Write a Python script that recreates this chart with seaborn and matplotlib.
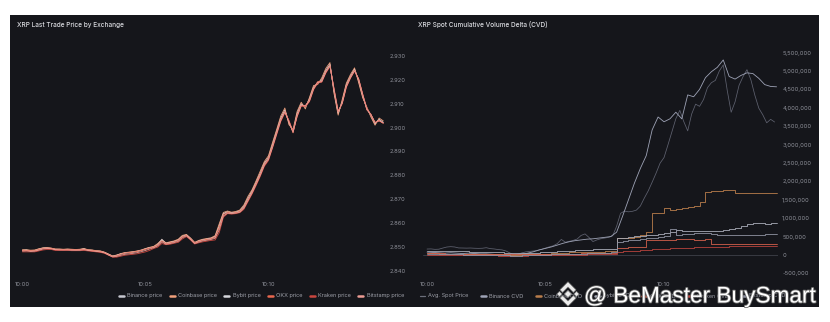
import numpy as np
import matplotlib
matplotlib.use("Agg")
import matplotlib.pyplot as plt
import seaborn as sns
from matplotlib.lines import Line2D
from matplotlib.patches import Rectangle, Polygon
import matplotlib.patheffects as pe
from matplotlib.ticker import FuncFormatter, FixedLocator

# ---------------------------------------------------------------------------
# Last trade price per exchange, sampled every 10 s from 10:00
# ---------------------------------------------------------------------------
binance_price = [
    2.8487, 2.8488, 2.8485, 2.8486, 2.8492, 2.8496, 2.8497, 2.8495, 2.8491, 2.8491,
    2.8490, 2.8491, 2.8490, 2.8489, 2.8490, 2.8493, 2.8488, 2.8487, 2.8484, 2.8483,
    2.8478, 2.8470, 2.8462, 2.8466, 2.8472, 2.8476, 2.8478, 2.8480, 2.8483, 2.8487,
    2.8493, 2.8498, 2.8501, 2.8512, 2.8533, 2.8516, 2.8520, 2.8524, 2.8530, 2.8546,
    2.8551, 2.8536, 2.8518, 2.8526, 2.8531, 2.8534, 2.8537, 2.8545, 2.8590, 2.8641,
    2.8648, 2.8644, 2.8646, 2.8652, 2.8670, 2.8705, 2.8735, 2.8772, 2.8810, 2.8852,
    2.8875, 2.8930, 2.8985, 2.9040, 2.9075, 2.9020, 2.8985, 2.9060, 2.9100, 2.9085,
    2.9120, 2.9170, 2.9185, 2.9200, 2.9240, 2.9265, 2.9150, 2.9058, 2.9110, 2.9180,
    2.9215, 2.9245, 2.9195, 2.9130, 2.9080, 2.9050, 2.9015, 2.9035, 2.9022]
coinbase_price = [
    2.8489, 2.8489, 2.8487, 2.8488, 2.8493, 2.8497, 2.8498, 2.8496, 2.8492, 2.8492,
    2.8491, 2.8492, 2.8491, 2.8490, 2.8491, 2.8494, 2.8489, 2.8488, 2.8485, 2.8484,
    2.8479, 2.8471, 2.8463, 2.8467, 2.8473, 2.8477, 2.8479, 2.8481, 2.8484, 2.8488,
    2.8494, 2.8499, 2.8503, 2.8515, 2.8530, 2.8518, 2.8522, 2.8526, 2.8533, 2.8549,
    2.8553, 2.8538, 2.8520, 2.8528, 2.8533, 2.8536, 2.8539, 2.8548, 2.8598, 2.8645,
    2.8651, 2.8646, 2.8649, 2.8655, 2.8676, 2.8712, 2.8740, 2.8778, 2.8818, 2.8858,
    2.8882, 2.8938, 2.8992, 2.9048, 2.9082, 2.9012, 2.8992, 2.9068, 2.9106, 2.9078,
    2.9126, 2.9176, 2.9180, 2.9208, 2.9248, 2.9272, 2.9142, 2.9052, 2.9118, 2.9186,
    2.9222, 2.9250, 2.9188, 2.9124, 2.9086, 2.9044, 2.9010, 2.9040, 2.9028]
bybit_price = [
    2.8486, 2.8487, 2.8484, 2.8485, 2.8490, 2.8495, 2.8496, 2.8494, 2.8490, 2.8490,
    2.8489, 2.8490, 2.8489, 2.8488, 2.8489, 2.8492, 2.8487, 2.8486, 2.8483, 2.8482,
    2.8477, 2.8469, 2.8461, 2.8465, 2.8471, 2.8475, 2.8477, 2.8479, 2.8482, 2.8486,
    2.8492, 2.8497, 2.8500, 2.8510, 2.8529, 2.8515, 2.8519, 2.8523, 2.8529, 2.8544,
    2.8550, 2.8535, 2.8517, 2.8525, 2.8530, 2.8533, 2.8536, 2.8543, 2.8585, 2.8638,
    2.8646, 2.8643, 2.8645, 2.8650, 2.8667, 2.8700, 2.8731, 2.8768, 2.8806, 2.8848,
    2.8871, 2.8925, 2.8980, 2.9036, 2.9070, 2.9025, 2.8980, 2.9055, 2.9096, 2.9090,
    2.9116, 2.9166, 2.9190, 2.9196, 2.9236, 2.9262, 2.9156, 2.9062, 2.9106, 2.9176,
    2.9212, 2.9242, 2.9200, 2.9135, 2.9076, 2.9054, 2.9018, 2.9032, 2.9020]
okx_price = [
    2.8486, 2.8486, 2.8485, 2.8485, 2.8490, 2.8494, 2.8496, 2.8495, 2.8491, 2.8490,
    2.8490, 2.8490, 2.8489, 2.8489, 2.8489, 2.8491, 2.8488, 2.8486, 2.8484, 2.8482,
    2.8477, 2.8468, 2.8461, 2.8464, 2.8470, 2.8475, 2.8477, 2.8479, 2.8482, 2.8486,
    2.8491, 2.8496, 2.8500, 2.8509, 2.8526, 2.8514, 2.8518, 2.8522, 2.8528, 2.8543,
    2.8549, 2.8534, 2.8517, 2.8524, 2.8529, 2.8532, 2.8535, 2.8542, 2.8582, 2.8636,
    2.8645, 2.8642, 2.8644, 2.8649, 2.8665, 2.8698, 2.8729, 2.8766, 2.8804, 2.8846,
    2.8870, 2.8922, 2.8978, 2.9033, 2.9068, 2.9028, 2.8978, 2.9052, 2.9094, 2.9092,
    2.9114, 2.9164, 2.9192, 2.9194, 2.9234, 2.9260, 2.9158, 2.9064, 2.9104, 2.9174,
    2.9210, 2.9240, 2.9202, 2.9137, 2.9074, 2.9056, 2.9020, 2.9030, 2.9019]
kraken_price = [
    2.8480, 2.8480, 2.8480, 2.8480, 2.8484, 2.8488, 2.8490, 2.8490, 2.8486, 2.8486,
    2.8486, 2.8486, 2.8485, 2.8485, 2.8485, 2.8486, 2.8484, 2.8482, 2.8480, 2.8478,
    2.8474, 2.8466, 2.8458, 2.8458, 2.8462, 2.8466, 2.8468, 2.8470, 2.8472, 2.8476,
    2.8480, 2.8486, 2.8494, 2.8500, 2.8515, 2.8510, 2.8512, 2.8516, 2.8520, 2.8534,
    2.8544, 2.8530, 2.8513, 2.8518, 2.8522, 2.8525, 2.8528, 2.8530, 2.8560, 2.8625,
    2.8640, 2.8638, 2.8640, 2.8644, 2.8658, 2.8690, 2.8722, 2.8758, 2.8796, 2.8838,
    2.8862, 2.8915, 2.8970, 2.9025, 2.9062, 2.9030, 2.8985, 2.9045, 2.9090, 2.9088,
    2.9108, 2.9158, 2.9186, 2.9190, 2.9228, 2.9255, 2.9165, 2.9070, 2.9100, 2.9168,
    2.9206, 2.9236, 2.9205, 2.9140, 2.9082, 2.9052, 2.9022, 2.9028, 2.9018]
bitstamp_price = [
    2.8483, 2.8484, 2.8482, 2.8483, 2.8487, 2.8492, 2.8494, 2.8493, 2.8489, 2.8488,
    2.8488, 2.8488, 2.8487, 2.8487, 2.8487, 2.8489, 2.8486, 2.8484, 2.8482, 2.8480,
    2.8476, 2.8467, 2.8459, 2.8461, 2.8466, 2.8470, 2.8472, 2.8474, 2.8477, 2.8481,
    2.8486, 2.8492, 2.8497, 2.8505, 2.8522, 2.8512, 2.8515, 2.8519, 2.8524, 2.8539,
    2.8547, 2.8532, 2.8515, 2.8521, 2.8526, 2.8529, 2.8532, 2.8537, 2.8572, 2.8630,
    2.8642, 2.8640, 2.8642, 2.8646, 2.8662, 2.8694, 2.8726, 2.8762, 2.8800, 2.8842,
    2.8866, 2.8918, 2.8974, 2.9029, 2.9065, 2.9024, 2.8982, 2.9048, 2.9092, 2.9090,
    2.9111, 2.9161, 2.9189, 2.9192, 2.9231, 2.9258, 2.9160, 2.9067, 2.9102, 2.9171,
    2.9208, 2.9238, 2.9203, 2.9138, 2.9078, 2.9054, 2.9021, 2.9029, 2.9019]

# ---------------------------------------------------------------------------
# Spot cumulative volume delta per exchange (millions of XRP), every 15 s
# ---------------------------------------------------------------------------
binance_cvd = [
    0.08, 0.07, 0.06, 0.05, 0.06, 0.05, 0.04, 0.05, 0.04, 0.03,
    0.03, 0.02, 0.01, 0.00, -0.01, 0.00, 0.02, 0.05, 0.09, 0.14,
    0.18, 0.22, 0.27, 0.32, 0.36, 0.39, 0.41, 0.43, 0.44, 0.46,
    0.48, 0.50, 0.62, 1.05, 1.50, 1.95, 2.35, 2.70, 3.40, 3.75,
    3.62, 3.70, 3.88, 3.70, 4.35, 4.30, 4.50, 4.82, 4.98, 5.10,
    5.30, 4.85, 4.78, 4.88, 4.95, 4.93, 4.80, 4.63, 4.58, 4.57]
coinbase_cvd = [
    0.05, 0.05, 0.04, 0.04, 0.04, 0.03, 0.03, 0.03, 0.03, 0.02,
    0.02, 0.02, 0.02, 0.02, 0.01, 0.01, 0.02, 0.02, 0.03, 0.03,
    0.04, 0.05, 0.05, 0.06, 0.07, 0.07, 0.08, 0.08, 0.09, 0.09,
    0.10, 0.10, 0.46, 0.47, 0.46, 0.48, 0.55, 0.62, 1.14, 1.15,
    1.28, 1.22, 1.25, 1.28, 1.31, 1.33, 1.45, 1.72, 1.73, 1.74,
    1.76, 1.77, 1.69, 1.69, 1.68, 1.69, 1.68, 1.69, 1.68, 1.68]
bybit_cvd = [
    0.10, 0.11, 0.12, 0.12, 0.11, 0.10, 0.10, 0.09, 0.09, 0.08,
    0.08, 0.07, 0.07, 0.06, 0.05, 0.05, 0.05, 0.06, 0.06, 0.07,
    0.08, 0.09, 0.10, 0.11, 0.12, 0.13, 0.13, 0.14, 0.15, 0.15,
    0.16, 0.17, 0.46, 0.47, 0.49, 0.51, 0.52, 0.54, 0.55, 0.57,
    0.60, 0.63, 0.68, 0.66, 0.64, 0.66, 0.65, 0.64, 0.66, 0.65,
    0.68, 0.72, 0.74, 0.78, 0.83, 0.87, 0.87, 0.85, 0.86, 0.87]
okx_cvd = [
    0.05, 0.05, 0.05, 0.04, 0.04, 0.04, 0.04, 0.03, 0.03, 0.03,
    0.03, 0.03, 0.02, 0.02, 0.02, 0.02, 0.02, 0.02, 0.03, 0.03,
    0.03, 0.03, 0.04, 0.04, 0.04, 0.04, 0.05, 0.05, 0.05, 0.05,
    0.05, 0.05, 0.19, 0.20, 0.21, 0.21, 0.22, 0.41, 0.41, 0.42,
    0.42, 0.42, 0.43, 0.43, 0.43, 0.42, 0.42, 0.43, 0.30, 0.30,
    0.31, 0.31, 0.31, 0.31, 0.30, 0.30, 0.30, 0.30, 0.30, 0.30]
kraken_cvd = [
    0.00, 0.00, 0.01, 0.01, 0.01, 0.00, 0.00, 0.00, -0.01, -0.01,
    -0.01, -0.01, -0.02, -0.02, -0.02, -0.02, -0.02, -0.01, -0.01, -0.01,
    0.00, 0.00, 0.00, 0.01, 0.01, 0.01, 0.01, 0.02, 0.02, 0.02,
    0.02, 0.02, 0.09, 0.10, 0.11, 0.12, 0.13, 0.14, 0.15, 0.16,
    0.17, 0.18, 0.19, 0.20, 0.20, 0.21, 0.21, 0.22, 0.22, 0.23,
    0.23, 0.24, 0.24, 0.25, 0.25, 0.25, 0.25, 0.25, 0.24, 0.245]
bitstamp_cvd = [
    0.02, 0.02, 0.03, 0.03, 0.02, 0.02, 0.01, 0.01, 0.01, 0.00,
    0.00, 0.00, -0.01, -0.01, -0.02, -0.02, -0.01, -0.01, 0.00, 0.00,
    0.01, 0.02, 0.02, 0.03, 0.03, 0.04, 0.04, 0.05, 0.05, 0.06,
    0.06, 0.07, 0.36, 0.37, 0.40, 0.42, 0.44, 0.46, 0.47, 0.48,
    0.52, 0.70, 0.55, 0.56, 0.58, 0.60, 0.60, 0.59, 0.56, 0.55,
    0.54, 0.54, 0.55, 0.55, 0.54, 0.54, 0.55, 0.56, 0.56, 0.56]

time_ticks = [0, 5, 10]
time_labels = ["10:00", "10:05", "10:10"]
price_ticks = [2.840, 2.850, 2.860, 2.870, 2.880, 2.890, 2.900, 2.910, 2.920, 2.930]
cvd_ticks = [-500000, 0, 500000, 1000000, 1500000, 2000000, 2500000,
             3000000, 3500000, 4000000, 4500000, 5000000, 5500000]

price_series = [
    ("Binance price", binance_price, "#c6c7cf"),
    ("Coinbase price", coinbase_price, "#f0a07c"),
    ("Bybit price", bybit_price, "#d6d7dd"),
    ("OKX price", okx_price, "#e8674e"),
    ("Kraken price", kraken_price, "#c9463f"),
    ("Bitstamp price", bitstamp_price, "#ec9c94"),
]
# (label, values, colour, stepped)
cvd_series = [
    ("Binance CVD", binance_cvd, "#9ea3b6", False),
    ("Coinbase CVD", coinbase_cvd, "#b97d4c", True),
    ("Bybit CVD", bybit_cvd, "#a9acb8", True),
    ("OKX CVD", okx_cvd, "#d2604b", True),
    ("Kraken CVD", kraken_cvd, "#b8433d", True),
    ("Bitstamp CVD", bitstamp_cvd, "#8f93a2", True),
]

# ---------------------------------------------------------------------------
sns.set_style("white")
plt.rcParams["font.family"] = ["Inter", "DejaVu Sans"]

W, H = 830, 322
PANEL = "#15161b"
TICK_C = "#8e9099"
fig = plt.figure(figsize=(W / 100, H / 100), dpi=100, facecolor="white")


def box(x0, y0, x1, y1):
    return [x0 / W, 1 - y1 / H, (x1 - x0) / W, (y1 - y0) / H]


bg = fig.add_axes([0, 0, 1, 1], zorder=0)
bg.set_xlim(0, W)
bg.set_ylim(H, 0)
bg.axis("off")
bg.add_patch(Rectangle((10, 15), 809, 292, color=PANEL, lw=0))


def style_axes(ax, pad_y):
    ax.patch.set_alpha(0)
    for s in ax.spines.values():
        s.set_visible(False)
    ax.yaxis.tick_right()
    ax.tick_params(axis="y", length=0, labelsize=4.2, colors=TICK_C, pad=pad_y)
    ax.tick_params(axis="x", length=0, labelsize=4.2, colors=TICK_C, pad=3.2)
    ax.set_xticks(time_ticks)
    ax.set_xticklabels(time_labels)
    ax.set_xlabel("")
    ax.set_ylabel("")
    ax.grid(False)


# ---- left: last trade price by exchange -----------------------------------
axL = fig.add_axes(box(20, 40, 388, 278), zorder=2)
for name, vals, col in price_series:
    t = np.arange(len(vals)) / 6.0
    sns.lineplot(x=t, y=vals, color=col, lw=0.6, ax=axL, estimator=None,
                 sort=False, legend=False)
axL.set_xlim(-0.10, 14.86)
axL.set_ylim(2.83707, 2.93665)
style_axes(axL, 1.5)
axL.yaxis.set_major_locator(FixedLocator(price_ticks))
axL.yaxis.set_major_formatter(FuncFormatter(lambda v, _: f"{v:.3f}"))

fig.text(17 / W, 1 - 25 / H, "XRP Last Trade Price by Exchange", fontsize=4.7,
         color="#d8d9de", va="center", ha="left", fontweight="medium")

handles = [Line2D([], [], color=c, lw=1.8) for _, _, c in price_series]
fig.legend(handles, [n for n, _, _ in price_series], loc="center right",
           bbox_to_anchor=(404 / W, 1 - 296 / H), ncol=6, frameon=False,
           fontsize=4, handlelength=0.9, handletextpad=0.6, columnspacing=1.3,
           labelcolor="#9c9ea7", borderaxespad=0, borderpad=0)

# ---- right: spot cumulative volume delta ----------------------------------
axR = fig.add_axes(box(423, 40, 778, 278), zorder=3)
axP = axR.twinx()
axP.set_zorder(2)
axR.axhline(0, color="#3e4049", lw=0.6, zorder=1)

avg_price = np.mean(np.array([v for _, v, _ in price_series]), axis=0)
tp = np.arange(len(avg_price)) / 6.0
sns.lineplot(x=tp, y=avg_price, color="#5f6270", lw=0.55, ax=axP,
             estimator=None, sort=False, legend=False)
axP.set_ylim(2.8363, 2.9367)
axP.set_xlim(-0.17, 14.81)
axP.axis("off")

for name, vals, col, stepped in cvd_series:
    t = np.arange(len(vals)) / 4.0
    sns.lineplot(x=t, y=np.array(vals) * 1e6, color=col, lw=0.6, ax=axR,
                 estimator=None, sort=False, legend=False,
                 drawstyle="steps-post" if stepped else "default")
axR.set_xlim(-0.17, 14.81)
axR.set_ylim(-625000, 5842000)
style_axes(axR, 3.0)
axR.yaxis.set_major_locator(FixedLocator(cvd_ticks))
axR.yaxis.set_major_formatter(FuncFormatter(lambda v, _: f"{int(round(v)):,}"))

fig.text(418 / W, 1 - 25 / H, "XRP Spot Cumulative Volume Delta (CVD)", fontsize=4.7,
         color="#d8d9de", va="center", ha="left", fontweight="medium")

r_handles = [Line2D([], [], color="#6c6f7b", lw=0.9)] + \
            [Line2D([], [], color=c, lw=1.8) for _, _, c, _ in cvd_series]
r_labels = ["Avg. Spot Price"] + [n for n, _, _, _ in cvd_series]
fig.legend(r_handles, r_labels, loc="center left",
           bbox_to_anchor=(420 / W, 1 - 296 / H), ncol=7, frameon=False,
           fontsize=4, handlelength=0.9, handletextpad=0.6, columnspacing=2.2,
           labelcolor="#9c9ea7", borderaxespad=0, borderpad=0)

# ---- watermark --------------------------------------------------------------
ov = fig.add_axes([0, 0, 1, 1], zorder=10)
ov.set_xlim(0, W)
ov.set_ylim(H, 0)
ov.axis("off")
ov.patch.set_alpha(0)
cx, cy = 568, 294
logo_c = "#ececec"
logo_kw = dict(closed=True, facecolor=logo_c, edgecolor="#7a7a7a", lw=0.5)
ov.add_patch(Polygon([(cx, cy - 3.6), (cx + 3.6, cy), (cx, cy + 3.6), (cx - 3.6, cy)], **logo_kw))
for dx in (-8.5, 8.5):
    ov.add_patch(Polygon([(cx + dx, cy - 2.6), (cx + dx + 2.6, cy), (cx + dx, cy + 2.6),
                          (cx + dx - 2.6, cy)], **logo_kw))
for sgn in (-1, 1):
    ov.add_patch(Polygon([(cx - 8, cy + sgn * 4.2), (cx, cy + sgn * 12.2), (cx + 8, cy + sgn * 4.2),
                          (cx + 5.4, cy + sgn * 1.6), (cx, cy + sgn * 7.0), (cx - 5.4, cy + sgn * 1.6)],
                         **logo_kw))
ov.text(584, 296, "@ BeMaster BuySmart", fontsize=16.3, color="white",
        family=["Liberation Sans", "DejaVu Sans"], va="center", ha="left",
        path_effects=[pe.withStroke(linewidth=1.2, foreground="#6a6a6a")])

fig.savefig("out.png", dpi=100, facecolor="white")
